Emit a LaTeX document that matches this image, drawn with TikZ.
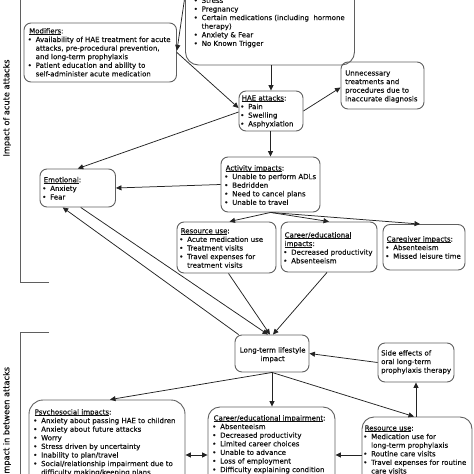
\documentclass[tikz,border=0pt]{standalone}
\usepackage{fontspec}
\setmainfont{DejaVu Sans}[FakeBold=0.35]
\usetikzlibrary{arrows.meta,calc}
\definecolor{bordergray}{RGB}{95,95,95}
\definecolor{linecol}{RGB}{35,35,35}
\definecolor{txtcol}{RGB}{15,15,15}
\newcommand{\hdl}[1]{\hbox{\hspace*{1.5pt}#1}}
\newcommand{\bil}[1]{\hbox{\makebox[8pt][l]{\textbullet}#1}}
\newcommand{\cil}[1]{\hbox{\hspace*{8pt}#1}}
\newcommand{\pll}[1]{\hbox{#1}}
\newcommand{\ulin}[1]{\setbox0\hbox{#1}\rlap{\rule[-1.3pt]{\wd0}{0.5pt}}\box0}
\newcommand{\blk}[1]{\vtop{\baselineskip=8.6pt\lineskiplimit=-20pt\lineskip=0pt #1}}
\begin{document}
\begin{tikzpicture}[x=1pt,y=-1pt,
  font=\fontsize{7}{8.6}\selectfont, text=txtcol,
  box/.style={draw=bordergray, line width=0.9pt, rounded corners=7pt, inner sep=0pt},
  bigbox/.style={box, rounded corners=13pt},
  txt/.style={anchor=base west, inner sep=0pt},
  arr/.style={-{Triangle[length=5.5pt,width=5pt]}, draw=linecol, line width=0.75pt},
  darr/.style={{Triangle[length=5.5pt,width=5pt]}-{Triangle[length=5.5pt,width=5pt]}, draw=linecol, line width=0.75pt},
  bracket/.style={draw=bordergray, line width=0.9pt},
  lab/.style={rotate=90, font=\fontsize{8.2}{10}\selectfont, inner sep=0pt}]
\useasboundingbox (0,0) rectangle (474,474);
% boxes
\node[bigbox, minimum width=169pt, minimum height=95pt] (trig) at (270,17.5) {};
\node[box, minimum width=152.5pt, minimum height=59pt] (mod) at (100.25,52.5) {};
\node[box, minimum width=64pt, minimum height=40pt] (hae) at (271,111) {};
\node[box, minimum width=83pt, minimum height=47pt] (unn) at (382.5,85.5) {};
\node[box, minimum width=99pt, minimum height=55pt] (act) at (270.5,184.5) {};
\node[box, minimum width=75.5pt, minimum height=38pt] (emo) at (77.75,188) {};
\node[box, minimum width=99pt, minimum height=51pt] (res1) at (226.5,247.5) {};
\node[box, minimum width=96pt, minimum height=50pt] (car1) at (329,247) {};
\node[box, minimum width=82pt, minimum height=45.5pt] (cg) at (424,247.25) {};
\node[box, minimum width=74pt, minimum height=37pt] (lt) at (272,353.5) {};
\node[box, minimum width=76pt, minimum height=39pt] (se) at (416,362.5) {};
\node[bigbox, rounded corners=14pt, minimum width=156pt, minimum height=110pt] (psy) at (107,455) {};
\node[bigbox, rounded corners=12pt, minimum width=127pt, minimum height=96pt] (car2) at (271.5,455) {};
\node[bigbox, rounded corners=12pt, minimum width=110pt, minimum height=76pt] (res2) at (417,455) {};
% texts
\node[txt] (trigt) at (193.5,2.9) {\blk{\bil{Stress}\bil{Pregnancy}\bil{Certain medications (including\ \ hormone}\cil{therapy)}\bil{Anxiety \& Fear}\bil{No Known Trigger}}};
\node[txt] (modt) at (27.5,33.4) {\blk{\hdl{\ulin{Modifiers}:}\bil{Availability of HAE treatment for acute}\cil{attacks, pre-procedural prevention,}\cil{and long-term prophylaxis}\bil{Patient education and ability to}\cil{self-administer acute medication}}};
\node[txt] (haet) at (240,100.5) {\blk{\hdl{\ulin{HAE attacks}:}\bil{Pain}\bil{Swelling}\bil{Asphyxiation}}};
\node[txt] (unnt) at (345,75.5) {\blk{\pll{Unnecessary}\pll{treatments and}\pll{procedures due to}\pll{inaccurate diagnosis}}};
\node[txt] (actt) at (224,170.5) {\blk{\hdl{\ulin{Activity impacts}:}\bil{Unable to perform ADLs}\bil{Bedridden}\bil{Need to cancel plans}\bil{Unable to travel}}};
\node[txt] (emot) at (42,182.3) {\blk{\hdl{\ulin{Emotional}:}\bil{Anxiety}\bil{Fear}}};
\node[txt] (res1t) at (179,233.3) {\blk{\hdl{\ulin{Resource use}:}\bil{Acute medication use}\bil{Treatment visits}\bil{Travel expenses for}\cil{treatment visits}}};
\node[txt] (car1t) at (283,237.5) {\blk{\hdl{\ulin{Career/educational}}\hdl{\ulin{impacts}:}\bil{Decreased productivity}\bil{Absenteeism}}};
\node[txt] (cgt) at (385,241.5) {\blk{\hdl{\ulin{Caregiver impacts}:}\bil{Absenteeism}\bil{Missed leisure time}}};
\node[txt] (ltt) at (272,352.5) {\blk{\hbox to 0pt{\hss Long-term lifestyle\hss}\hbox to 0pt{\hss impact\hss}}};
\node[txt] (set) at (381,355.5) {\blk{\pll{Side effects of}\pll{oral long-term}\pll{prophylaxis therapy}}};
\node[txt] (psyt) at (33,414.5) {\blk{\hdl{\ulin{Psychosocial impacts}:}\bil{Anxiety about passing HAE to children}\bil{Anxiety about future attacks}\bil{Worry}\bil{Stress driven by uncertainty}\bil{Inability to plan/travel}\bil{Social/relationship impairment due to}\cil{difficulty making/keeping plans}}};
\node[txt] (car2t) at (212,420.5) {\blk{\hdl{\ulin{Career/educational impairment}:}\bil{Absenteeism}\bil{Decreased productivity}\bil{Limited career choices}\bil{Unable to advance}\bil{Loss of employment}\bil{Difficulty explaining condition}}};
\node[txt] (res2t) at (363,430.5) {\blk{\hdl{\ulin{Resource use}:}\bil{Medication use for}\cil{long-term prophylaxis}\bil{Routine care visits}\bil{Travel expenses for routine}\cil{care visits}}};
% side labels and brackets
\node[lab] (lab1) at (7,108) {Impact of acute attacks};
\node[lab] (lab2) at (7,421.5) {Impact in between attacks};
\draw[bracket] (49,282) -- (20.5,282) -- (20.5,-5);
\draw[bracket] (49,332) -- (20.5,332) -- (20.5,480);
% connectors
\draw[arr] ([yshift=22pt]trig.west) -- ([yshift=2pt]mod.east);
\draw[arr] (mod.east) -- ([yshift=3pt]hae.west);
\draw[arr] ([yshift=-1pt]hae.west) -- (emo.north);
\draw[arr] (hae.north |- trig.south) -- (hae.north);
\draw[arr] (hae.east) -- ([yshift=-2pt]unn.west);
\draw[arr] (act.north |- hae.south) -- (act.north);
\draw[arr] (act.west) -- (emo.east);
\draw[arr] (act.south) -- ([xshift=3pt]res1.north);
\draw[arr] (act.south) -- (car1.north);
\draw[arr] (act.south) -- ([xshift=-4pt]cg.north);
\draw[arr] ([xshift=3pt]emo.south) -- ([xshift=-4pt]lt.north);
\draw[arr] ([xshift=4pt]lt.north west) -- ([xshift=-15pt]emo.south);
\draw[arr] ([xshift=2pt]res1.south) -- ([xshift=-2pt]lt.north);
\draw[arr] ([xshift=-2pt]car1.south) -- ([xshift=1pt]lt.north);
\draw[arr] (lt.south) -- (lt.south |- car2.north);
\draw[arr] (lt.south) -- ([xshift=3pt]psy.north);
\draw[arr] (lt.south) -- ([xshift=-3pt]res2.north);
\draw[arr] (se.west) -- (lt.east);
\draw[arr] (se.south |- res2.north) -- (se.south);
\draw[arr] (res2.west) -- (car2.east);
\draw[darr] (psy.east) -- (car2.west);
\end{tikzpicture}
\end{document}
